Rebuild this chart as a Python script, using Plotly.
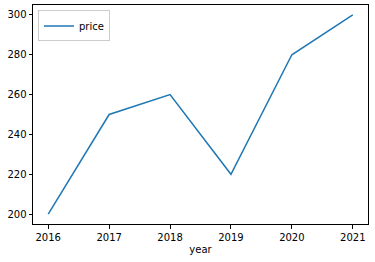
import plotly.graph_objects as go

years = [2016, 2017, 2018, 2019, 2020, 2021]
price = [200, 250, 260, 220, 280, 300]
y_ticks = [200, 220, 240, 260, 280, 300]

fig = go.Figure()
fig.add_trace(go.Scatter(x=years, y=price, mode="lines", name="price",
                         line=dict(color="#1f77b4", width=1.5)))

axis_common = dict(showline=True, linecolor="black", linewidth=1, mirror=True,
                   ticks="outside", ticklen=3.5, tickwidth=1, tickcolor="black",
                   showgrid=False, zeroline=False,
                   tickfont=dict(family="DejaVu Sans", size=10, color="black"))

fig.update_layout(
    width=375, height=262,
    margin=dict(l=33, r=7, t=5, b=38),
    paper_bgcolor="white", plot_bgcolor="white",
    font=dict(family="DejaVu Sans", size=10, color="black"),
    showlegend=True,
    legend=dict(x=0.015, y=0.975, xanchor="left", yanchor="top",
                bordercolor="#cccccc", borderwidth=1, bgcolor="rgba(255,255,255,0.8)",
                font=dict(family="DejaVu Sans", size=10, color="black"),
                itemwidth=30, tracegroupgap=0),
    xaxis=dict(range=[2015.75, 2021.25], tickvals=years,
               ticktext=[str(y) for y in years],
               title=dict(text="year", standoff=4,
                          font=dict(family="DejaVu Sans", size=10, color="black")),
               **axis_common),
    yaxis=dict(range=[195, 305], tickvals=y_ticks, **axis_common),
)

fig.write_html("out.html")
